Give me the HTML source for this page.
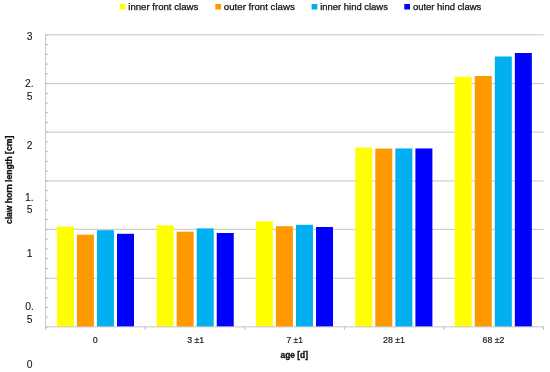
<!DOCTYPE html>
<html lang="en"><head><meta charset="utf-8"><title>Claw horn length by age</title>
<style>html,body{margin:0;padding:0;background:#fff;}body{width:550px;height:372px;overflow:hidden;}svg{display:block;}.c{font-family:"Liberation Sans",sans-serif;}</style></head><body>
<svg width="550" height="372" viewBox="0 0 550 372" class="c">
<rect x="0" y="0" width="550" height="372" fill="#ffffff"/>
<line x1="45.60" y1="278.30" x2="543.50" y2="278.30" stroke="#c6c6c6" stroke-width="1"/>
<line x1="45.60" y1="229.35" x2="543.50" y2="229.35" stroke="#c6c6c6" stroke-width="1"/>
<line x1="45.60" y1="180.95" x2="543.50" y2="180.95" stroke="#c6c6c6" stroke-width="1"/>
<line x1="45.60" y1="132.15" x2="543.50" y2="132.15" stroke="#c6c6c6" stroke-width="1"/>
<line x1="45.60" y1="83.60" x2="543.50" y2="83.60" stroke="#c6c6c6" stroke-width="1"/>
<line x1="45.60" y1="34.80" x2="543.50" y2="34.80" stroke="#c6c6c6" stroke-width="1"/>
<line x1="45.60" y1="34.80" x2="45.60" y2="326.85" stroke="#c4c4c4" stroke-width="1"/>
<line x1="45.60" y1="326.85" x2="48.00" y2="326.85" stroke="#b8b8b8" stroke-width="1"/>
<line x1="45.60" y1="317.14" x2="48.00" y2="317.14" stroke="#b8b8b8" stroke-width="1"/>
<line x1="45.60" y1="307.43" x2="48.00" y2="307.43" stroke="#b8b8b8" stroke-width="1"/>
<line x1="45.60" y1="297.72" x2="48.00" y2="297.72" stroke="#b8b8b8" stroke-width="1"/>
<line x1="45.60" y1="288.01" x2="48.00" y2="288.01" stroke="#b8b8b8" stroke-width="1"/>
<line x1="45.60" y1="278.30" x2="48.00" y2="278.30" stroke="#b8b8b8" stroke-width="1"/>
<line x1="45.60" y1="268.51" x2="48.00" y2="268.51" stroke="#b8b8b8" stroke-width="1"/>
<line x1="45.60" y1="258.72" x2="48.00" y2="258.72" stroke="#b8b8b8" stroke-width="1"/>
<line x1="45.60" y1="248.93" x2="48.00" y2="248.93" stroke="#b8b8b8" stroke-width="1"/>
<line x1="45.60" y1="239.14" x2="48.00" y2="239.14" stroke="#b8b8b8" stroke-width="1"/>
<line x1="45.60" y1="229.35" x2="48.00" y2="229.35" stroke="#b8b8b8" stroke-width="1"/>
<line x1="45.60" y1="219.67" x2="48.00" y2="219.67" stroke="#b8b8b8" stroke-width="1"/>
<line x1="45.60" y1="209.99" x2="48.00" y2="209.99" stroke="#b8b8b8" stroke-width="1"/>
<line x1="45.60" y1="200.31" x2="48.00" y2="200.31" stroke="#b8b8b8" stroke-width="1"/>
<line x1="45.60" y1="190.63" x2="48.00" y2="190.63" stroke="#b8b8b8" stroke-width="1"/>
<line x1="45.60" y1="180.95" x2="48.00" y2="180.95" stroke="#b8b8b8" stroke-width="1"/>
<line x1="45.60" y1="171.19" x2="48.00" y2="171.19" stroke="#b8b8b8" stroke-width="1"/>
<line x1="45.60" y1="161.43" x2="48.00" y2="161.43" stroke="#b8b8b8" stroke-width="1"/>
<line x1="45.60" y1="151.67" x2="48.00" y2="151.67" stroke="#b8b8b8" stroke-width="1"/>
<line x1="45.60" y1="141.91" x2="48.00" y2="141.91" stroke="#b8b8b8" stroke-width="1"/>
<line x1="45.60" y1="132.15" x2="48.00" y2="132.15" stroke="#b8b8b8" stroke-width="1"/>
<line x1="45.60" y1="122.44" x2="48.00" y2="122.44" stroke="#b8b8b8" stroke-width="1"/>
<line x1="45.60" y1="112.73" x2="48.00" y2="112.73" stroke="#b8b8b8" stroke-width="1"/>
<line x1="45.60" y1="103.02" x2="48.00" y2="103.02" stroke="#b8b8b8" stroke-width="1"/>
<line x1="45.60" y1="93.31" x2="48.00" y2="93.31" stroke="#b8b8b8" stroke-width="1"/>
<line x1="45.60" y1="83.60" x2="48.00" y2="83.60" stroke="#b8b8b8" stroke-width="1"/>
<line x1="45.60" y1="73.84" x2="48.00" y2="73.84" stroke="#b8b8b8" stroke-width="1"/>
<line x1="45.60" y1="64.08" x2="48.00" y2="64.08" stroke="#b8b8b8" stroke-width="1"/>
<line x1="45.60" y1="54.32" x2="48.00" y2="54.32" stroke="#b8b8b8" stroke-width="1"/>
<line x1="45.60" y1="44.56" x2="48.00" y2="44.56" stroke="#b8b8b8" stroke-width="1"/>
<line x1="45.60" y1="34.80" x2="48.00" y2="34.80" stroke="#b8b8b8" stroke-width="1"/>
<rect x="56.85" y="226.60" width="17.00" height="100.25" fill="#ffff00"/>
<rect x="76.90" y="234.70" width="17.00" height="92.15" fill="#ff9900"/>
<rect x="96.95" y="230.20" width="17.00" height="96.65" fill="#00b0f0"/>
<rect x="117.00" y="233.80" width="17.00" height="93.05" fill="#0000ff"/>
<rect x="156.60" y="225.40" width="17.00" height="101.45" fill="#ffff00"/>
<rect x="176.65" y="231.70" width="17.00" height="95.15" fill="#ff9900"/>
<rect x="196.70" y="228.40" width="17.00" height="98.45" fill="#00b0f0"/>
<rect x="216.75" y="233.00" width="17.00" height="93.85" fill="#0000ff"/>
<rect x="255.85" y="221.40" width="17.00" height="105.45" fill="#ffff00"/>
<rect x="275.90" y="226.20" width="17.00" height="100.65" fill="#ff9900"/>
<rect x="295.95" y="224.80" width="17.00" height="102.05" fill="#00b0f0"/>
<rect x="316.00" y="227.00" width="17.00" height="99.85" fill="#0000ff"/>
<rect x="355.25" y="147.55" width="17.00" height="179.30" fill="#ffff00"/>
<rect x="375.30" y="148.55" width="17.00" height="178.30" fill="#ff9900"/>
<rect x="395.35" y="148.45" width="17.00" height="178.40" fill="#00b0f0"/>
<rect x="415.40" y="148.45" width="17.00" height="178.40" fill="#0000ff"/>
<rect x="454.70" y="76.80" width="17.00" height="250.05" fill="#ffff00"/>
<rect x="474.75" y="76.00" width="17.00" height="250.85" fill="#ff9900"/>
<rect x="494.80" y="56.50" width="17.00" height="270.35" fill="#00b0f0"/>
<rect x="514.85" y="53.00" width="17.00" height="273.85" fill="#0000ff"/>
<line x1="45.60" y1="326.85" x2="543.50" y2="326.85" stroke="#c4c4c4" stroke-width="1"/>
<line x1="45.60" y1="326.85" x2="45.60" y2="329.65" stroke="#b8b8b8" stroke-width="1"/>
<line x1="145.18" y1="326.85" x2="145.18" y2="329.65" stroke="#b8b8b8" stroke-width="1"/>
<line x1="244.76" y1="326.85" x2="244.76" y2="329.65" stroke="#b8b8b8" stroke-width="1"/>
<line x1="344.34" y1="326.85" x2="344.34" y2="329.65" stroke="#b8b8b8" stroke-width="1"/>
<line x1="443.92" y1="326.85" x2="443.92" y2="329.65" stroke="#b8b8b8" stroke-width="1"/>
<line x1="543.50" y1="326.85" x2="543.50" y2="329.65" stroke="#b8b8b8" stroke-width="1"/>
<rect x="119.8" y="4.0" width="5.7" height="5.5" fill="#ffff00"/>
<text x="128.25" y="9.6" font-size="8.8" fill="#111" stroke="#111" stroke-width="0.25" textLength="70.0" lengthAdjust="spacingAndGlyphs">inner front claws</text>
<rect x="215.3" y="4.0" width="5.7" height="5.5" fill="#ff9900"/>
<text x="223.85" y="9.6" font-size="8.8" fill="#111" stroke="#111" stroke-width="0.25" textLength="70.9" lengthAdjust="spacingAndGlyphs">outer front claws</text>
<rect x="311.6" y="4.0" width="5.7" height="5.5" fill="#00b0f0"/>
<text x="320.25" y="9.6" font-size="8.8" fill="#111" stroke="#111" stroke-width="0.25" textLength="67.6" lengthAdjust="spacingAndGlyphs">inner hind claws</text>
<rect x="404.3" y="4.0" width="5.7" height="5.5" fill="#0000ff"/>
<text x="412.95" y="9.6" font-size="8.8" fill="#111" stroke="#111" stroke-width="0.25" textLength="68.3" lengthAdjust="spacingAndGlyphs">outer hind claws</text>
<text x="92.8" y="342.6" font-size="9.2" fill="#222" stroke="#222" stroke-width="0.22" textLength="5.0" lengthAdjust="spacingAndGlyphs">0</text>
<text x="187.2" y="342.6" font-size="9.2" fill="#222" stroke="#222" stroke-width="0.22" textLength="17.0" lengthAdjust="spacingAndGlyphs">3 ±1</text>
<text x="286.6" y="342.6" font-size="9.2" fill="#222" stroke="#222" stroke-width="0.22" textLength="16.2" lengthAdjust="spacingAndGlyphs">7 ±1</text>
<text x="383.0" y="342.6" font-size="9.2" fill="#222" stroke="#222" stroke-width="0.22" textLength="21.9" lengthAdjust="spacingAndGlyphs">28 ±1</text>
<text x="482.6" y="342.6" font-size="9.2" fill="#222" stroke="#222" stroke-width="0.22" textLength="21.8" lengthAdjust="spacingAndGlyphs">68 ±2</text>
<text x="280.5" y="357.9" font-size="9.1" font-weight="bold" fill="#111" stroke="#111" stroke-width="0.35" textLength="27.5" lengthAdjust="spacingAndGlyphs">age [d]</text>
<g transform="translate(11.8,0)" font-size="8.5" font-weight="bold" fill="#111" stroke="#111" stroke-width="0.3">
<text transform="translate(0,224.10) rotate(-90)" textLength="18.53" lengthAdjust="spacingAndGlyphs">claw</text>
<text transform="translate(0,203.36) rotate(-90)" textLength="19.23" lengthAdjust="spacingAndGlyphs">horn</text>
<text transform="translate(0,181.92) rotate(-90)" textLength="25.78" lengthAdjust="spacingAndGlyphs">length</text>
<text transform="translate(0,153.93) rotate(-90)" textLength="18.40" lengthAdjust="spacingAndGlyphs">[cm]</text>
</g>
<text x="29.70" y="40.12" font-size="10.3" fill="#1a1a1a" stroke="#1a1a1a" stroke-width="0.12" text-anchor="middle">3</text>
<text x="29.30" y="86.97" font-size="10.3" fill="#1a1a1a" stroke="#1a1a1a" stroke-width="0.12" text-anchor="middle">2.</text>
<text x="29.70" y="99.77" font-size="10.3" fill="#1a1a1a" stroke="#1a1a1a" stroke-width="0.12" text-anchor="middle">5</text>
<text x="29.70" y="148.77" font-size="10.3" fill="#1a1a1a" stroke="#1a1a1a" stroke-width="0.12" text-anchor="middle">2</text>
<text x="29.30" y="200.57" font-size="10.3" fill="#1a1a1a" stroke="#1a1a1a" stroke-width="0.12" text-anchor="middle">1.</text>
<text x="29.70" y="213.37" font-size="10.3" fill="#1a1a1a" stroke="#1a1a1a" stroke-width="0.12" text-anchor="middle">5</text>
<text x="29.70" y="257.37" font-size="10.3" fill="#1a1a1a" stroke="#1a1a1a" stroke-width="0.12" text-anchor="middle">1</text>
<text x="29.50" y="309.87" font-size="10.3" fill="#1a1a1a" stroke="#1a1a1a" stroke-width="0.12" text-anchor="middle">0.</text>
<text x="29.70" y="322.67" font-size="10.3" fill="#1a1a1a" stroke="#1a1a1a" stroke-width="0.12" text-anchor="middle">5</text>
<text x="29.70" y="367.97" font-size="10.3" fill="#1a1a1a" stroke="#1a1a1a" stroke-width="0.12" text-anchor="middle">0</text>
</svg></body></html>
